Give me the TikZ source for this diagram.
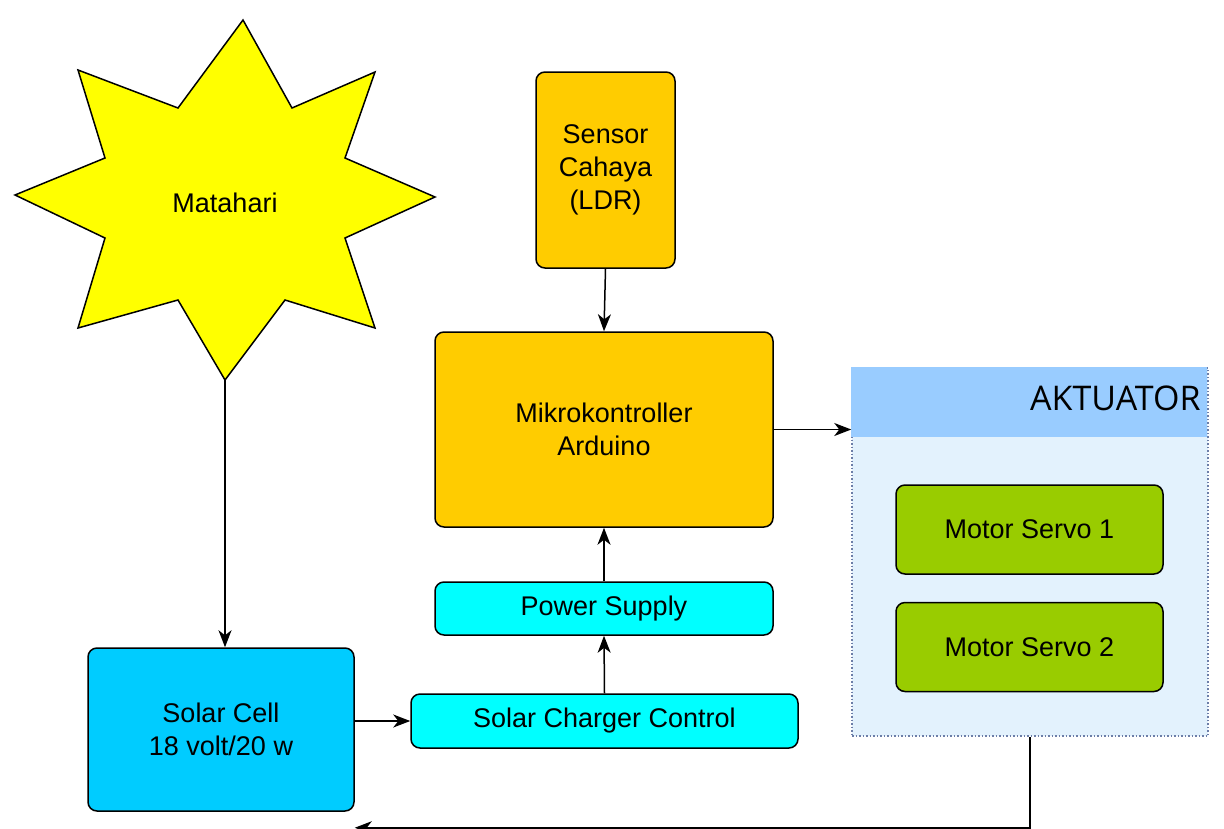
\documentclass[tikz,border=0pt]{standalone}
\usepackage{fontspec}
\setmainfont{Liberation Sans}
\newfontfamily\lightfont{Open Sans}
\usetikzlibrary{positioning,arrows.meta}
\definecolor{sunyellow}{HTML}{FFFF00}
\definecolor{ctrlorange}{HTML}{FFCC00}
\definecolor{cellblue}{HTML}{00CCFF}
\definecolor{pscyan}{HTML}{00FFFF}
\definecolor{servogreen}{HTML}{99CC00}
\definecolor{groupfill}{HTML}{E3F2FD}
\definecolor{groupbar}{HTML}{99CCFF}
\definecolor{groupline}{HTML}{6C7EA8}
\tikzset{
  % rounded block
  block/.style={draw,line width=1.5pt,rounded corners=9pt,align=center,
    font=\fontsize{27}{33}\selectfont,inner sep=0pt},
  % connector with a solid tip
  flow/.style={draw,line width=1.5pt,-{Stealth[length=17pt,width=13pt,inset=5pt]}},
}
\begin{document}
\begin{tikzpicture}[x=1pt,y=-1pt]
  \useasboundingbox (0,0) rectangle (1224,828);
  % sun
  \draw[line width=1.5pt,fill=sunyellow]
    (243,20) -- (292,108) -- (375,72) -- (345,158) -- (435,197) -- (345,238)
    -- (375,328) -- (285,300) -- (225,380) -- (178,300) -- (78,328) -- (105,238)
    -- (15,195) -- (105,158) -- (78,70) -- (178,108) -- cycle;
  \node[font=\fontsize{27}{33}\selectfont] (sun) at (225,203) {Matahari};
  \coordinate (sunTip) at (225,380);
  % blocks
  \node[block,fill=ctrlorange,minimum width=139pt,minimum height=196pt] (ldr) at (605.5,170) {Sensor\\Cahaya\\(LDR)};
  \node[block,fill=ctrlorange,minimum width=338pt,minimum height=195pt] (mcu) at (604,429.5) {Mikrokontroller\\Arduino};
  \node[block,fill=pscyan,minimum width=338pt,minimum height=53pt] (psu) at (604,608.5) {Power Supply};
  \node[block,fill=pscyan,minimum width=387pt,minimum height=54pt] (scc) at (604.5,721) {Solar Charger Control};
  \node[block,fill=cellblue,minimum width=266pt,minimum height=163pt] (cell) at (221,729.5) {Solar Cell\\18 volt/20 w};
  % actuator group
  \node[draw=groupline,dotted,line width=1.5pt,fill=groupfill,minimum width=356pt,minimum height=368pt,inner sep=0pt] (act) at (1030,552) {};
  \fill[groupbar] (act.north west) rectangle ++(356,70);
  \node[anchor=north east,inner sep=0pt,font=\lightfont\fontsize{34}{40}\selectfont] (actTitle) at ([xshift=-8pt,yshift=-18pt]act.north east) {AKTUATOR};
  \node[block,fill=servogreen,minimum width=267pt,minimum height=89pt] (servoA) at (1029.5,529.5) {Motor Servo 1};
  \node[block,fill=servogreen,minimum width=267pt,minimum height=89pt,below=27pt of servoA] (servoB) {Motor Servo 2};
  % connectors
  \path[flow] (sunTip) -- (cell.north -| sunTip);
  \path[flow] (cell.east |- scc) -- (scc.west);
  \path[flow] (scc.north) -- (psu.south);
  \path[flow] (psu.north) -- (mcu.south);
  \path[flow] (ldr.south) -- (mcu.north);
  \path[flow] (mcu.east) -- (act.west |- mcu.east);
  \path[flow] (act.south) |- ([yshift=-16pt]cell.south east);
\end{tikzpicture}
\end{document}
